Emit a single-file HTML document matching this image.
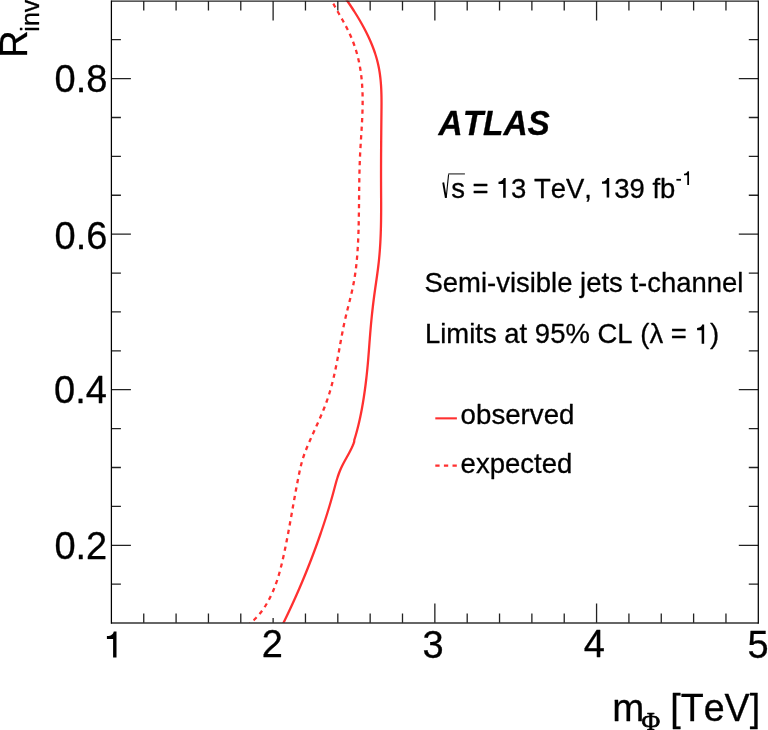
<!DOCTYPE html>
<html><head><meta charset="utf-8"><style>
html,body{margin:0;padding:0;background:#fff;}
body{width:768px;height:730px;overflow:hidden;}
svg{display:block;}
text{font-family:"Liberation Sans", sans-serif;fill:#000;font-kerning:none;}
</style></head><body>
<svg width="768" height="730" viewBox="0 0 768 730">
<rect x="0" y="0" width="768" height="730" fill="#fff"/>
<defs><clipPath id="fr"><rect x="111.4" y="0.5" width="646.9" height="622.5"/></clipPath></defs>
<g clip-path="url(#fr)" fill="none" stroke="#ff3030" stroke-width="2.3">
<path d="M345.29,-2.00 L346.69,0.00 L348.06,2.00 L349.42,4.00 L350.76,6.00 L352.08,8.00 L353.38,10.00 L354.65,12.00 L355.91,14.00 L357.14,16.00 L358.35,18.00 L359.54,20.00 L360.69,22.00 L361.83,24.00 L362.94,26.00 L364.02,28.00 L365.07,30.00 L366.10,32.00 L367.09,34.00 L368.06,36.00 L368.99,38.00 L369.90,40.00 L370.77,42.00 L371.61,44.00 L372.42,46.00 L373.19,48.00 L373.93,50.00 L374.63,52.00 L375.29,54.00 L375.92,56.00 L376.51,58.00 L377.07,60.00 L377.58,62.00 L378.05,64.00 L378.49,66.00 L378.89,68.00 L379.25,70.00 L379.58,72.00 L379.88,74.00 L380.14,76.00 L380.38,78.00 L380.59,80.00 L380.77,82.00 L380.93,84.00 L381.07,86.00 L381.18,88.00 L381.28,90.00 L381.35,92.00 L381.41,94.00 L381.46,96.00 L381.49,98.00 L381.51,100.00 L381.52,102.00 L381.52,104.00 L381.51,106.00 L381.50,108.00 L381.48,110.00 L381.46,112.00 L381.44,114.00 L381.42,116.00 L381.40,118.00 L381.38,120.00 L381.36,122.00 L381.34,124.00 L381.32,126.00 L381.30,128.00 L381.28,130.00 L381.26,132.00 L381.25,134.00 L381.23,136.00 L381.21,138.00 L381.19,140.00 L381.18,142.00 L381.16,144.00 L381.15,146.00 L381.13,148.00 L381.12,150.00 L381.11,152.00 L381.09,154.00 L381.08,156.00 L381.07,158.00 L381.06,160.00 L381.06,162.00 L381.05,164.00 L381.04,166.00 L381.04,168.00 L381.04,170.00 L381.03,172.00 L381.03,174.00 L381.03,176.00 L381.04,178.00 L381.04,180.00 L381.05,182.00 L381.05,184.00 L381.06,186.00 L381.07,188.00 L381.08,190.00 L381.09,192.00 L381.10,194.00 L381.11,196.00 L381.12,198.00 L381.13,200.00 L381.14,202.00 L381.14,204.00 L381.14,206.00 L381.14,208.00 L381.14,210.00 L381.13,212.00 L381.12,214.00 L381.10,216.00 L381.08,218.00 L381.06,220.00 L381.03,222.00 L380.99,224.00 L380.95,226.00 L380.90,228.00 L380.85,230.00 L380.78,232.00 L380.72,234.00 L380.64,236.00 L380.55,238.00 L380.46,240.00 L380.36,242.00 L380.25,244.00 L380.12,246.00 L379.99,248.00 L379.85,250.00 L379.70,252.00 L379.54,254.00 L379.36,256.00 L379.17,258.00 L378.98,260.00 L378.77,262.00 L378.54,264.00 L378.31,266.00 L378.06,268.00 L377.81,270.00 L377.54,272.00 L377.27,274.00 L377.00,276.00 L376.71,278.00 L376.43,280.00 L376.14,282.00 L375.86,284.00 L375.57,286.00 L375.28,288.00 L375.00,290.00 L374.72,292.00 L374.44,294.00 L374.17,296.00 L373.91,298.00 L373.65,300.00 L373.40,302.00 L373.16,304.00 L372.92,306.00 L372.69,308.00 L372.46,310.00 L372.24,312.00 L372.02,314.00 L371.81,316.00 L371.61,318.00 L371.41,320.00 L371.22,322.00 L371.03,324.00 L370.85,326.00 L370.67,328.00 L370.50,330.00 L370.33,332.00 L370.17,334.00 L370.01,336.00 L369.85,338.00 L369.70,340.00 L369.54,342.00 L369.39,344.00 L369.24,346.00 L369.09,348.00 L368.94,350.00 L368.79,352.00 L368.63,354.00 L368.47,356.00 L368.31,358.00 L368.14,360.00 L367.97,362.00 L367.80,364.00 L367.61,366.00 L367.42,368.00 L367.23,370.00 L367.02,372.00 L366.81,374.00 L366.60,376.00 L366.37,378.00 L366.14,380.00 L365.90,382.00 L365.66,384.00 L365.40,386.00 L365.14,388.00 L364.87,390.00 L364.59,392.00 L364.30,394.00 L364.00,396.00 L363.70,398.00 L363.38,400.00 L363.06,402.00 L362.72,404.00 L362.37,406.00 L362.02,408.00 L361.65,410.00 L361.26,412.00 L360.87,414.00 L360.46,416.00 L360.04,418.00 L359.60,420.00 L359.15,422.00 L358.68,424.00 L358.20,426.00 L357.69,428.00 L357.18,430.00 L356.64,432.00 L356.09,434.00 L355.52,436.00 L354.92,438.00 L354.31,440.00 L354.14,442.00 L353.37,444.00 L352.54,446.00 L351.64,448.00 L350.67,450.00 L349.65,452.00 L348.58,454.00 L347.48,456.00 L346.36,458.00 L345.25,460.00 L344.15,462.00 L343.09,464.00 L342.08,466.00 L341.13,468.00 L340.26,470.00 L339.45,472.00 L338.70,474.00 L338.01,476.00 L337.36,478.00 L336.74,480.00 L336.16,482.00 L335.61,484.00 L335.07,486.00 L334.53,488.00 L334.00,490.00 L333.47,492.00 L332.93,494.00 L332.37,496.00 L331.81,498.00 L331.24,500.00 L330.67,502.00 L330.08,504.00 L329.49,506.00 L328.89,508.00 L328.28,510.00 L327.66,512.00 L327.04,514.00 L326.41,516.00 L325.77,518.00 L325.13,520.00 L324.48,522.00 L323.83,524.00 L323.16,526.00 L322.50,528.00 L321.82,530.00 L321.14,532.00 L320.45,534.00 L319.76,536.00 L319.06,538.00 L318.36,540.00 L317.65,542.00 L316.93,544.00 L316.21,546.00 L315.48,548.00 L314.74,550.00 L314.00,552.00 L313.25,554.00 L312.49,556.00 L311.73,558.00 L310.97,560.00 L310.19,562.00 L309.41,564.00 L308.62,566.00 L307.83,568.00 L307.03,570.00 L306.22,572.00 L305.41,574.00 L304.59,576.00 L303.76,578.00 L302.93,580.00 L302.09,582.00 L301.25,584.00 L300.39,586.00 L299.54,588.00 L298.67,590.00 L297.80,592.00 L296.92,594.00 L296.03,596.00 L295.14,598.00 L294.24,600.00 L293.33,602.00 L292.42,604.00 L291.50,606.00 L290.57,608.00 L289.64,610.00 L288.70,612.00 L287.75,614.00 L286.80,616.00 L285.84,618.00 L284.87,620.00 L283.90,622.00 L282.92,624.00 L282.42,625.00"/>
<path d="M330.40,-2.00 L331.41,0.00 L332.45,2.00 L333.52,4.00 L334.61,6.00 L335.72,8.00 L336.84,10.00 L337.97,12.00 L339.11,14.00 L340.25,16.00 L341.38,18.00 L342.51,20.00 L343.62,22.00 L344.71,24.00 L345.79,26.00 L346.83,28.00 L347.85,30.00 L348.83,32.00 L349.77,34.00 L350.67,36.00 L351.53,38.00 L352.35,40.00 L353.13,42.00 L353.88,44.00 L354.58,46.00 L355.25,48.00 L355.89,50.00 L356.49,52.00 L357.05,54.00 L357.59,56.00 L358.09,58.00 L358.56,60.00 L359.00,62.00 L359.41,64.00 L359.79,66.00 L360.14,68.00 L360.46,70.00 L360.76,72.00 L361.04,74.00 L361.28,76.00 L361.51,78.00 L361.71,80.00 L361.89,82.00 L362.05,84.00 L362.19,86.00 L362.30,88.00 L362.40,90.00 L362.48,92.00 L362.55,94.00 L362.59,96.00 L362.62,98.00 L362.64,100.00 L362.64,102.00 L362.62,104.00 L362.60,106.00 L362.56,108.00 L362.51,110.00 L362.45,112.00 L362.38,114.00 L362.30,116.00 L362.21,118.00 L362.12,120.00 L362.02,122.00 L361.91,124.00 L361.80,126.00 L361.68,128.00 L361.56,130.00 L361.44,132.00 L361.31,134.00 L361.18,136.00 L361.06,138.00 L360.93,140.00 L360.81,142.00 L360.68,144.00 L360.56,146.00 L360.44,148.00 L360.33,150.00 L360.22,152.00 L360.12,154.00 L360.02,156.00 L359.93,158.00 L359.85,160.00 L359.78,162.00 L359.70,164.00 L359.64,166.00 L359.58,168.00 L359.52,170.00 L359.47,172.00 L359.43,174.00 L359.38,176.00 L359.35,178.00 L359.31,180.00 L359.28,182.00 L359.25,184.00 L359.22,186.00 L359.19,188.00 L359.17,190.00 L359.15,192.00 L359.12,194.00 L359.10,196.00 L359.08,198.00 L359.06,200.00 L359.04,202.00 L359.02,204.00 L359.00,206.00 L358.97,208.00 L358.95,210.00 L358.92,212.00 L358.89,214.00 L358.86,216.00 L358.82,218.00 L358.79,220.00 L358.74,222.00 L358.70,224.00 L358.65,226.00 L358.60,228.00 L358.54,230.00 L358.48,232.00 L358.41,234.00 L358.33,236.00 L358.25,238.00 L358.16,240.00 L358.07,242.00 L357.97,244.00 L357.86,246.00 L357.75,248.00 L357.62,250.00 L357.48,252.00 L357.34,254.00 L357.18,256.00 L357.01,258.00 L356.83,260.00 L356.64,262.00 L356.43,264.00 L356.21,266.00 L355.98,268.00 L355.72,270.00 L355.46,272.00 L355.17,274.00 L354.87,276.00 L354.55,278.00 L354.22,280.00 L353.86,282.00 L353.48,284.00 L353.09,286.00 L352.67,288.00 L352.24,290.00 L351.79,292.00 L351.33,294.00 L350.85,296.00 L350.37,298.00 L349.87,300.00 L349.38,302.00 L348.88,304.00 L348.37,306.00 L347.87,308.00 L347.37,310.00 L346.88,312.00 L346.39,314.00 L345.91,316.00 L345.44,318.00 L344.98,320.00 L344.54,322.00 L344.10,324.00 L343.68,326.00 L343.27,328.00 L342.87,330.00 L342.48,332.00 L342.09,334.00 L341.72,336.00 L341.34,338.00 L340.97,340.00 L340.61,342.00 L340.24,344.00 L339.88,346.00 L339.52,348.00 L339.16,350.00 L338.80,352.00 L338.43,354.00 L338.07,356.00 L337.69,358.00 L337.32,360.00 L336.93,362.00 L336.54,364.00 L336.14,366.00 L335.73,368.00 L335.32,370.00 L334.89,372.00 L334.45,374.00 L333.99,376.00 L333.53,378.00 L333.04,380.00 L332.55,382.00 L332.03,384.00 L331.50,386.00 L330.95,388.00 L330.38,390.00 L329.79,392.00 L329.17,394.00 L328.54,396.00 L327.88,398.00 L327.20,400.00 L326.49,402.00 L325.75,404.00 L324.99,406.00 L324.21,408.00 L323.41,410.00 L322.59,412.00 L321.75,414.00 L320.90,416.00 L320.03,418.00 L319.15,420.00 L318.26,422.00 L317.37,424.00 L316.47,426.00 L315.57,428.00 L314.66,430.00 L313.75,432.00 L312.85,434.00 L311.95,436.00 L311.05,438.00 L310.17,440.00 L309.29,442.00 L308.42,444.00 L307.57,446.00 L306.74,448.00 L305.94,450.00 L305.16,452.00 L304.42,454.00 L303.72,456.00 L303.05,458.00 L302.44,460.00 L301.87,462.00 L301.33,464.00 L300.83,466.00 L300.35,468.00 L299.90,470.00 L299.47,472.00 L299.06,474.00 L298.65,476.00 L298.25,478.00 L297.86,480.00 L297.47,482.00 L297.09,484.00 L296.70,486.00 L296.33,488.00 L295.96,490.00 L295.59,492.00 L295.22,494.00 L294.86,496.00 L294.49,498.00 L294.13,500.00 L293.78,502.00 L293.42,504.00 L293.06,506.00 L292.71,508.00 L292.35,510.00 L292.00,512.00 L291.64,514.00 L291.29,516.00 L290.93,518.00 L290.57,520.00 L290.21,522.00 L289.85,524.00 L289.49,526.00 L289.12,528.00 L288.75,530.00 L288.38,532.00 L288.01,534.00 L287.63,536.00 L287.24,538.00 L286.85,540.00 L286.46,542.00 L286.06,544.00 L285.66,546.00 L285.25,548.00 L284.83,550.00 L284.41,552.00 L283.98,554.00 L283.54,556.00 L283.10,558.00 L282.65,560.00 L282.19,562.00 L281.71,564.00 L281.23,566.00 L280.72,568.00 L280.20,570.00 L279.66,572.00 L279.09,574.00 L278.51,576.00 L277.89,578.00 L277.25,580.00 L276.57,582.00 L275.86,584.00 L275.12,586.00 L274.34,588.00 L273.53,590.00 L272.67,592.00 L271.77,594.00 L270.82,596.00 L269.82,598.00 L268.78,600.00 L267.68,602.00 L266.53,604.00 L265.31,606.00 L264.02,608.00 L262.63,610.00 L261.14,612.00 L259.54,614.00 L257.81,616.00 L255.94,618.00 L253.93,620.00 L251.76,622.00 L249.41,624.00 L248.80,624.50" stroke-dasharray="4.3 4.3" stroke-dashoffset="2.3"/>
</g>
<path d="M143.75,623V613.40 M143.75,1V10.60 M176.09,623V613.40 M176.09,1V10.60 M208.44,623V613.40 M208.44,1V10.60 M240.78,623V613.40 M240.78,1V10.60 M273.12,623V618.00 M273.12,1V20.40 M305.47,623V613.40 M305.47,1V10.60 M337.82,623V613.40 M337.82,1V10.60 M370.16,623V613.40 M370.16,1V10.60 M402.50,623V613.40 M402.50,1V10.60 M434.85,623V603.60 M434.85,1V20.40 M467.20,623V613.40 M467.20,1V10.60 M499.54,623V613.40 M499.54,1V10.60 M531.88,623V613.40 M531.88,1V10.60 M564.23,623V613.40 M564.23,1V10.60 M596.57,623V603.60 M596.57,1V20.40 M628.92,623V613.40 M628.92,1V10.60 M661.26,623V613.40 M661.26,1V10.60 M693.61,623V613.40 M693.61,1V10.60 M725.96,623V613.40 M725.96,1V10.60 M111.40,584.17H120.90 M758.30,584.17H748.80 M111.40,545.28H130.90 M758.30,545.28H738.80 M111.40,506.39H120.90 M758.30,506.39H748.80 M111.40,467.50H120.90 M758.30,467.50H748.80 M111.40,428.61H120.90 M758.30,428.61H748.80 M111.40,389.72H130.90 M758.30,389.72H738.80 M111.40,350.83H120.90 M758.30,350.83H748.80 M111.40,311.94H120.90 M758.30,311.94H748.80 M111.40,273.05H120.90 M758.30,273.05H748.80 M111.40,234.16H130.90 M758.30,234.16H738.80 M111.40,195.27H120.90 M758.30,195.27H748.80 M111.40,156.38H120.90 M758.30,156.38H748.80 M111.40,117.49H120.90 M758.30,117.49H748.80 M111.40,78.60H130.90 M758.30,78.60H738.80 M111.40,39.71H120.90 M758.30,39.71H748.80" stroke="#222" stroke-width="1.3" fill="none"/>
<path d="M111.4,1.1H758.3" stroke="#222" stroke-width="1.4" fill="none"/>
<path d="M111.4,623H758.3" stroke="#333" stroke-width="1.4" fill="none"/>
<path d="M111.4,0.5V623.7M758.3,0.5V623.7" stroke="#000" stroke-width="1.25" fill="none"/>
<path d="M116.50,657.50 L116.50,631.40 L113.80,631.40 C113.20,633.60 111.80,635.90 106.90,636.10 L106.90,639.10 L113.10,639.10 L113.10,657.50 Z" fill="#000"/>
<path d="M505.71,197.70 L505.71,178.10 L503.68,178.10 C503.23,179.75 502.18,181.48 498.50,181.63 L498.50,183.88 L503.16,183.88 L503.16,197.70 Z" fill="#000"/>
<path d="M609.21,197.50 L609.21,177.90 L607.18,177.90 C606.73,179.55 605.68,181.28 602.00,181.43 L602.00,183.68 L606.66,183.68 L606.66,197.50 Z" fill="#000"/>
<path d="M689.04,184.90 L689.04,171.20 L687.62,171.20 C687.31,172.35 686.57,173.56 684.00,173.67 L684.00,175.24 L687.25,175.24 L687.25,184.90 Z" fill="#000"/>
<path d="M704.17,343.80 L704.17,324.59 L702.18,324.59 C701.74,326.21 700.71,327.90 697.10,328.05 L697.10,330.26 L701.66,330.26 L701.66,343.80 Z" fill="#000"/>
<rect x="676.4" y="178.9" width="4.6" height="1.8" fill="#000"/>
<g style="filter:grayscale(1)" stroke="#000" stroke-width="0.3" stroke-linejoin="round">
<text transform="translate(54.57,92.45) scale(1.0000,1)" font-size="38" >0.8</text>
<text transform="translate(54.57,248.60) scale(1.0000,1)" font-size="38" >0.6</text>
<text transform="translate(54.00,403.25) scale(1.0000,1)" font-size="38" >0.4</text>
<text transform="translate(54.40,559.40) scale(1.0000,1)" font-size="38" >0.2</text>
<text transform="translate(261.70,657.30) scale(1.0000,1)" font-size="38" >2</text>
<text transform="translate(422.60,657.60) scale(1.0000,1)" font-size="38" >3</text>
<text transform="translate(583.85,657.30) scale(1.0000,1)" font-size="38" >4</text>
<text transform="translate(747.50,658.10) scale(1.0000,1)" font-size="38" >5</text>
<text transform="translate(612.37,721.05) scale(1.0115,1)" font-size="38" >m</text>
<text transform="translate(641.60,730.20) scale(1.0000,1)" font-size="25.5" style="font-family:'Liberation Serif', serif" stroke-width="0.7">&#934;</text>
<text transform="translate(670.23,720.70) scale(0.9906,1)" font-size="38" >[TeV]</text>
<text transform="translate(438.50,134.95) scale(0.9552,1)" font-size="35" font-weight="bold" font-style="italic">ATLAS</text>
<text transform="translate(451.20,197.60) scale(0.9811,1)" font-size="28" >s = </text>
<text transform="translate(511.10,197.60) scale(0.9811,1)" font-size="28" >3 TeV, </text>
<text transform="translate(614.30,197.60) scale(0.9811,1)" font-size="28" >39 fb</text>
<text transform="translate(424.53,291.50) scale(0.9807,1)" font-size="28" >Semi-visible jets t-channel</text>
<text transform="translate(424.94,343.45) scale(0.9814,1)" font-size="28" >Limits at 95% CL (&#955; = </text>
<text transform="translate(710.10,343.45) scale(0.9814,1)" font-size="28" >)</text>
<text transform="translate(460.61,424.35) scale(0.9884,1)" font-size="28" >observed</text>
<text transform="translate(460.62,473.15) scale(0.9829,1)" font-size="28" >expected</text>
<text transform="translate(26.70,57.70) rotate(-90)" font-size="38">R</text>
<text transform="translate(39,31.66) rotate(-90)" font-size="25">inv</text>
</g>
<path d="M443.2,182.5L445.9,197.8" stroke="#000" stroke-width="1.9" fill="none"/>
<path d="M446.2,197.8L448.6,174.3" stroke="#000" stroke-width="1.1" fill="none"/>
<path d="M448.3,173.9H464.9" stroke="#444" stroke-width="1.3" fill="none"/>
<path d="M435.3,418.35H456.9" stroke="#ff3030" stroke-width="2.1"/>
<path d="M435.3,465.6H456.9" stroke="#ff3030" stroke-width="2.1" stroke-dasharray="4.3 4.3"/>
</svg>
</body></html>
